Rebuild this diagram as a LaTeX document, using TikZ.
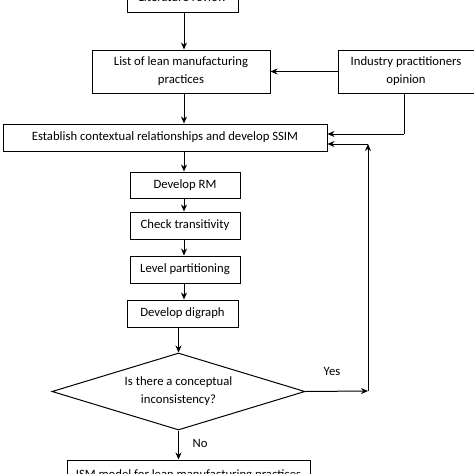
\documentclass[tikz,border=0pt]{standalone}
\usepackage{fontspec}
\setmainfont{Carlito}
\usetikzlibrary{arrows.meta,shapes.geometric}
\begin{document}
\begin{tikzpicture}[x=1pt,y=-1pt,
  txt/.style={font=\fontsize{12.7}{18}\selectfont},
  box/.style={draw,line width=1pt,inner sep=0pt,align=center,txt},
  lbl/.style={inner sep=0pt,txt},
  arr/.style={-{Stealth[length=7pt,width=6pt]},line width=1pt},
  ln/.style={line width=1pt}]
\useasboundingbox (0,0) rectangle (474,474);
\node[box,minimum width=111pt,minimum height=30pt] (lit) at (182.5,-3) {\raisebox{-2pt}{Literature review}};
\node[box,minimum width=178pt,minimum height=43pt] (list) at (181,71.5) {List of lean manufacturing\\practices};
\node[box,minimum width=136pt,minimum height=43pt] (ind) at (406,71.5) {Industry practitioners\\opinion};
\node[box,minimum width=324pt,minimum height=27pt] (ssim) at (165,137.5) {Establish contextual relationships and develop SSIM};
\node[box,minimum width=110pt,minimum height=26pt] (rm) at (185,185) {Develop RM};
\node[box,minimum width=110pt,minimum height=27pt] (ct) at (185,225.5) {Check transitivity};
\node[box,minimum width=110pt,minimum height=27pt] (lp) at (185,269.5) {Level partitioning};
\node[box,minimum width=111pt,minimum height=27pt] (dg) at (182.5,313.5) {Develop digraph};
\node[draw,line width=1pt,diamond,aspect=3.3,inner sep=0pt,minimum width=253pt,minimum height=77pt,align=center,txt] (dia) at (178.5,391.5) {Is there a conceptual\\inconsistency?};
\node[box,minimum width=243pt,minimum height=30pt] (ism) at (188.5,475) {ISM model for lean manufacturing practices};
\coordinate (c1) at (404,134);
\coordinate (c2) at (368,391);
\coordinate (c3) at (368,144);
\draw[arr] (lit.south -| 184,0) -- (list.north -| 184,0);
\draw[arr] (ind.west) -- (list.east);
\draw[arr] (list.south -| 184,0) -- (ssim.north -| 184,0);
\draw[ln] (ind.south -| c1) -- (c1);
\draw[arr] (c1) -- (c1 -| ssim.east);
\draw[arr] (ssim.south -| 184,0) -- (rm.north -| 184,0);
\draw[arr] (rm.south -| 184,0) -- (ct.north -| 184,0);
\draw[arr] (ct.south -| 184,0) -- (lp.north -| 184,0);
\draw[arr] (lp.south -| 184,0) -- (dg.north -| 184,0);
\draw[arr] (dg.south -| dia.north) -- (dia.north);
\draw[arr] (dia.east) -- (c2);
\draw[arr] (c2) -- (c3);
\draw[arr] (c3) -- (c3 -| ssim.east);
\draw[arr] (dia.south) -- (dia.south |- ism.north);
\node[lbl] (yes) at (332,371) {Yes};
\node[lbl] (no) at (200,443) {No};
\end{tikzpicture}
\end{document}
